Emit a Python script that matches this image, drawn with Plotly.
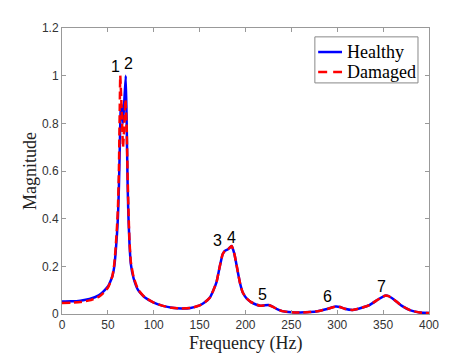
import plotly.graph_objects as go

freq_h = [0, 10, 20, 30, 40, 45, 50, 52, 55, 57, 58.5, 60, 61, 62, 63, 64, 65, 66.5, 68, 69.5, 70.5, 71.5, 72.3,
          73.5, 75, 78, 83, 90, 100, 110, 120, 130, 140, 150, 156, 161, 165, 168.5, 172, 175, 177.5, 181, 185,
          188, 190.5, 194, 197, 201, 206, 212, 216, 220, 225, 230, 235, 240, 250, 260, 270, 280, 290, 298,
          303, 308, 317, 325, 335, 345, 352, 356, 362, 370, 380, 390, 400]
mag_h = [0.052, 0.053, 0.056, 0.063, 0.078, 0.094, 0.115, 0.13, 0.16, 0.2, 0.26, 0.34, 0.41, 0.53, 0.7, 0.86, 0.88, 0.8, 0.9, 1.0, 0.8, 0.55, 0.42,
         0.3, 0.21, 0.15, 0.1, 0.07, 0.048, 0.034, 0.026, 0.023, 0.025, 0.036, 0.05, 0.068, 0.1, 0.135, 0.2, 0.25, 0.265, 0.272, 0.285,
         0.25, 0.2, 0.13, 0.09, 0.066, 0.05, 0.039, 0.035, 0.036, 0.038, 0.03, 0.019, 0.012, 0.007, 0.006, 0.008, 0.013, 0.022, 0.031,
         0.029, 0.022, 0.017, 0.024, 0.037, 0.062, 0.077, 0.075, 0.06, 0.035, 0.015, 0.006, 0.004]

freq_d = [0, 10, 20, 30, 40, 45, 50, 52, 55, 57, 58.5, 60, 61, 62, 63, 63.5, 65, 66.5, 68, 69.2, 70.5, 71.5, 72.5,
          73.5, 75, 78, 83, 90, 100, 110, 120, 130, 140, 150, 156, 161, 165, 168.5, 172, 175, 177.5, 181, 185,
          188, 190.5, 194, 197, 201, 206, 212, 216, 220, 225, 230, 235, 240, 250, 260, 270, 280, 290, 298,
          303, 308, 317, 325, 335, 345, 352, 356, 362, 370, 380, 390, 400]
mag_d = [0.046, 0.047, 0.05, 0.057, 0.072, 0.088, 0.11, 0.127, 0.16, 0.21, 0.28, 0.37, 0.45, 0.6, 0.88, 1.0, 0.86, 0.7, 0.8, 0.9, 0.78, 0.58, 0.43,
         0.31, 0.22, 0.155, 0.102, 0.071, 0.048, 0.034, 0.026, 0.023, 0.025, 0.036, 0.05, 0.068, 0.1, 0.135, 0.2, 0.25, 0.265, 0.272, 0.285,
         0.25, 0.2, 0.13, 0.09, 0.066, 0.05, 0.039, 0.035, 0.036, 0.038, 0.03, 0.019, 0.012, 0.007, 0.006, 0.008, 0.013, 0.022, 0.031,
         0.029, 0.022, 0.017, 0.024, 0.037, 0.062, 0.077, 0.075, 0.06, 0.035, 0.015, 0.006, 0.004]

peak_labels = ["1", "2", "3", "4", "5", "6", "7"]
peak_label_x = [58, 73, 169, 185, 218, 289, 348]
peak_label_y = [1.04, 1.05, 0.31, 0.32, 0.08, 0.075, 0.115]

x_ticks = [0, 50, 100, 150, 200, 250, 300, 350, 400]
y_ticks = [0, 0.2, 0.4, 0.6, 0.8, 1.0, 1.2]
y_tick_text = ["0", "0.2", "0.4", "0.6", "0.8", "1", "1.2"]

x_title = "Frequency (Hz)"
y_title = "Magnitude"

series_names = ["Healthy", "Damaged"]
series_colors = ["#0000ff", "#ff0000"]
red_dash = "8px,4px"
title_font = dict(family="Liberation Serif, Times New Roman", size=18, color="#222222")

fig = go.Figure()
fig.add_trace(go.Scatter(x=freq_h, y=mag_h, mode="lines", name=series_names[0], showlegend=False,
                         line=dict(color=series_colors[0], width=2.5, shape="spline", smoothing=0.4)))
fig.add_trace(go.Scatter(x=freq_d, y=mag_d, mode="lines", name=series_names[1], showlegend=False,
                         line=dict(color=series_colors[1], width=2.5, dash=red_dash, shape="spline", smoothing=0.4)))

for t, x, y in zip(peak_labels, peak_label_x, peak_label_y):
    fig.add_annotation(x=x, y=y, text=t, showarrow=False,
                       font=dict(family="Liberation Sans, Arial", size=16, color="black"))

# axis titles as annotations so they can sit exactly where the reference has them
fig.add_annotation(xref="paper", yref="paper", x=0.5, y=0, yanchor="middle", yshift=-29,
                   text=x_title, showarrow=False, font=title_font)
fig.add_annotation(xref="paper", yref="paper", x=0, y=0.5, xanchor="center", xshift=-32,
                   text=y_title, textangle=-90, showarrow=False, font=title_font)

# legend drawn manually (box, sample lines, labels) in paper coordinates
fig.add_shape(type="rect", xref="paper", yref="paper", x0=0.689, x1=0.970, y0=0.808, y1=0.969,
              line=dict(color="#888888", width=1), fillcolor="white", layer="above")
legend_y = [0.916, 0.846]
legend_dash = ["solid", "9px,6px"]
for name, col, ly, dsh in zip(series_names, series_colors, legend_y, legend_dash):
    fig.add_shape(type="line", xref="paper", yref="paper", x0=0.698, x1=0.763, y0=ly, y1=ly,
                  line=dict(color=col, width=2.5, dash=dsh), layer="above")
    fig.add_annotation(xref="paper", yref="paper", x=0.772, y=ly, text=name, showarrow=False,
                       xanchor="left", yanchor="middle",
                       font=dict(family="Liberation Serif, Times New Roman", size=18, color="black"))

axis_common = dict(showline=True, linecolor="#999999", linewidth=1, mirror="ticks",
                   ticks="inside", ticklen=4, tickcolor="#999999", showgrid=False, zeroline=False,
                   automargin=False,
                   tickfont=dict(family="Liberation Sans, Arial", size=12, color="#333333"))

fig.update_xaxes(range=[0, 400], tickvals=x_ticks, **axis_common)
fig.update_yaxes(range=[0, 1.2], tickvals=y_ticks, ticktext=y_tick_text, **axis_common)

fig.update_layout(
    width=474, height=355,
    margin=dict(l=62, r=45, t=28, b=41),
    plot_bgcolor="white", paper_bgcolor="white",
    showlegend=False,
)

fig.write_html("out.html", config={"displayModeBar": False},
               post_script="document.body.style.margin='0';")
